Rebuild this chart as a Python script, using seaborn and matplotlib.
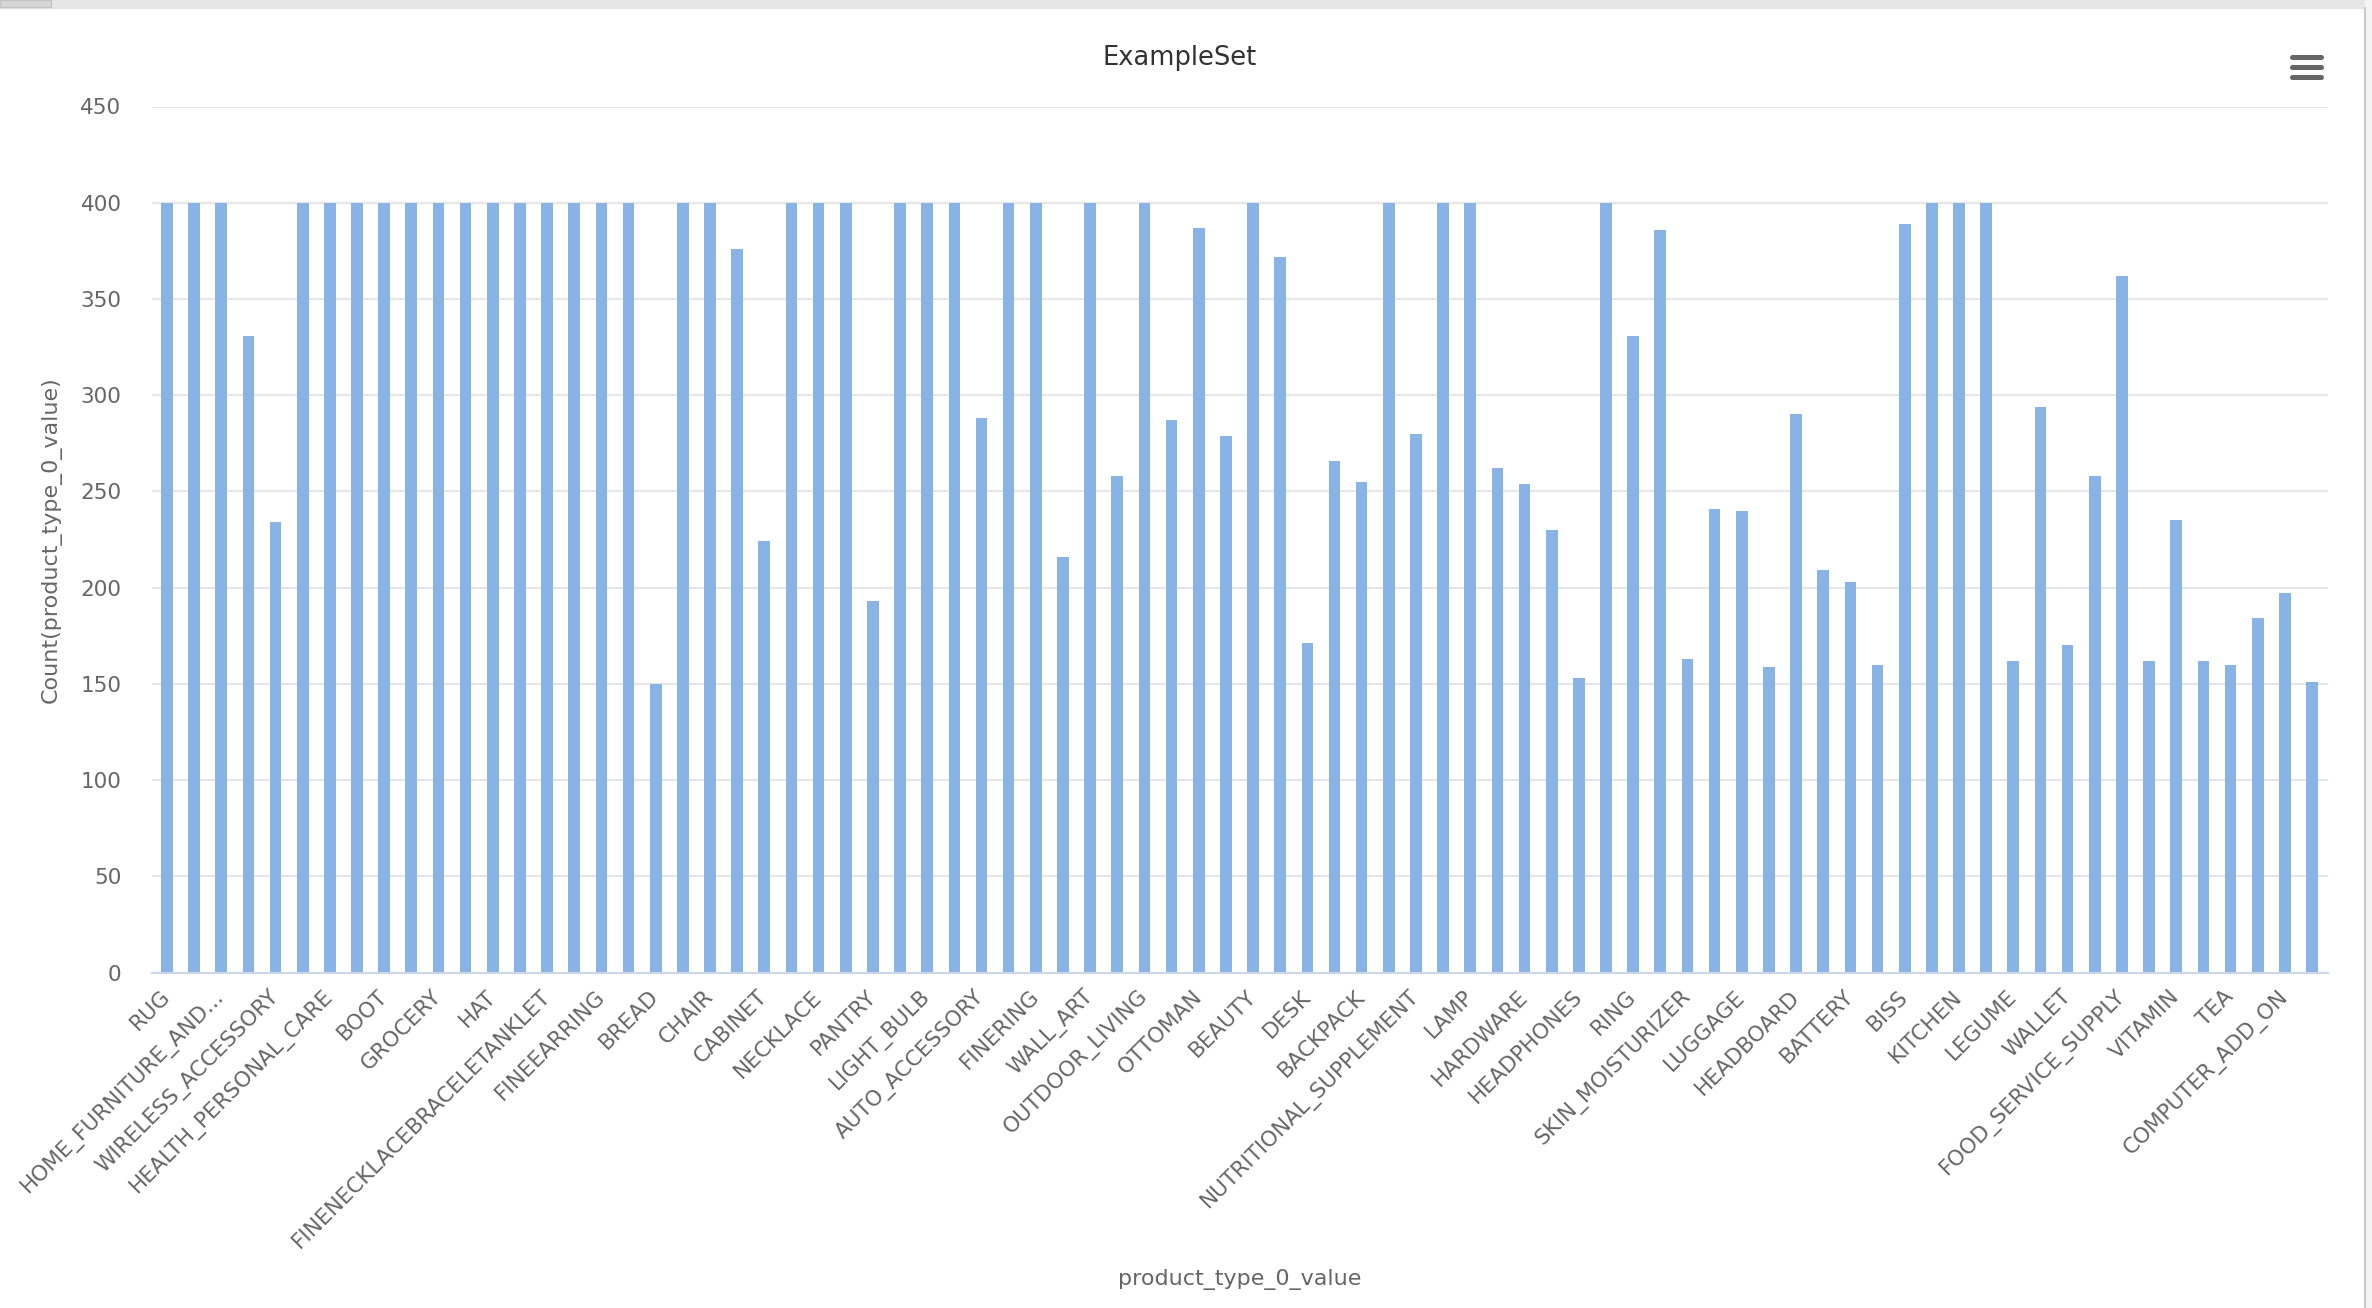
import numpy as np
import pandas as pd
import matplotlib.pyplot as plt
from matplotlib.lines import Line2D
from matplotlib.patches import Rectangle
import seaborn as sns

# === DATA ===
# 80 bars; only every second category name is printed on the axis (the rest are hidden by the chart)
shown_labels = ['RUG', 'HOME_FURNITURE_AND...', 'WIRELESS_ACCESSORY', 'HEALTH_PERSONAL_CARE', 'BOOT',
                'GROCERY', 'HAT', 'FINENECKLACEBRACELETANKLET', 'FINEEARRING', 'BREAD',
                'CHAIR', 'CABINET', 'NECKLACE', 'PANTRY', 'LIGHT_BULB',
                'AUTO_ACCESSORY', 'FINERING', 'WALL_ART', 'OUTDOOR_LIVING', 'OTTOMAN',
                'BEAUTY', 'DESK', 'BACKPACK', 'NUTRITIONAL_SUPPLEMENT', 'LAMP',
                'HARDWARE', 'HEADPHONES', 'RING', 'SKIN_MOISTURIZER', 'LUGGAGE',
                'HEADBOARD', 'BATTERY', 'BISS', 'KITCHEN', 'LEGUME',
                'WALLET', 'FOOD_SERVICE_SUPPLY', 'VITAMIN', 'TEA', 'COMPUTER_ADD_ON']
counts = [400, 400, 400, 331, 234, 400, 400, 400, 400, 400,
          400, 400, 400, 400, 400, 400, 400, 400, 150, 400,
          400, 376, 224, 400, 400, 400, 193, 400, 400, 400,
          288, 400, 400, 216, 400, 258, 400, 287, 387, 279,
          400, 372, 171, 266, 255, 400, 280, 400, 400, 262,
          254, 230, 153, 400, 331, 386, 163, 241, 240, 159,
          290, 209, 203, 160, 389, 400, 400, 400, 162, 294,
          170, 258, 362, 162, 235, 162, 160, 184, 197, 151]
y_ticks = [0, 50, 100, 150, 200, 250, 300, 350, 400, 450]

df = pd.DataFrame({'pos': np.arange(len(counts)), 'count': counts})

# === STYLE ===
sns.set_style('white')
plt.rcParams['font.family'] = ['DejaVu Sans']
BAR = '#89b3e5'
GREY_TXT = '#666666'

W, H = 2372, 1308
fig = plt.figure(figsize=(W / 100, H / 100), dpi=100)
ax = fig.add_axes([152 / W, 1 - 972.6 / H, (2328 - 152) / W, (972.6 - 106.5) / H])

sns.barplot(data=df, x='pos', y='count', color=BAR, width=0.43, saturation=1,
            linewidth=0, ax=ax)

ax.set_ylim(0, 450)
ax.set_xlim(-0.55, len(counts) - 0.41)
ax.set_yticks(y_ticks)
ax.set_yticklabels([str(v) for v in y_ticks], fontsize=15.5, color=GREY_TXT)
ax.yaxis.grid(True, color='#e6e6e6', lw=1.5)
ax.set_axisbelow(True)

ax.set_xticks(np.arange(0, len(counts), 2))
ax.set_xticklabels(shown_labels, rotation=45, ha='right', rotation_mode='anchor',
                   va='center', fontsize=15.5, color=GREY_TXT)
ax.tick_params(axis='x', length=0, pad=15)
ax.tick_params(axis='y', length=0, pad=22)

for s in ['top', 'right', 'left']:
    ax.spines[s].set_visible(False)
ax.spines['bottom'].set_color('#ccd6eb')
ax.spines['bottom'].set_linewidth(1.5)

ax.set_xlabel('product_type_0_value', fontsize=16, color=GREY_TXT)
ax.xaxis.set_label_coords(0.5, -(1280 - 972.6) / (972.6 - 106.5), transform=ax.transAxes)
ax.xaxis.label.set_va('center')
ax.set_ylabel('Count(product_type_0_value)', fontsize=16, color=GREY_TXT)
ax.yaxis.set_label_coords(-(152 - 51) / (2328 - 152), 0.5, transform=ax.transAxes)
ax.yaxis.label.set_va('center')

fig.text(1180 / W, 1 - 58 / H, 'ExampleSet', ha='center', va='center', fontsize=18.5, color='#333333')

# === FRAME DECORATION (window chrome) ===
fig.patches.append(Rectangle((0, 1 - 8 / H), 1, 8 / H, transform=fig.transFigure,
                             color='#e6e6e6', zorder=0))
fig.patches.append(Rectangle((0, 1 - 7 / H), 51 / W, 7 / H, transform=fig.transFigure,
                             facecolor='#d6d6d6', edgecolor='#c4c4c4', lw=1, zorder=1))
fig.patches.append(Rectangle((2365 / W, 0), 7 / W, 1, transform=fig.transFigure,
                             color='#f4f4f4', zorder=0))
fig.lines.append(Line2D([2364.5 / W, 2364.5 / W], [0, 1 - 8 / H], transform=fig.transFigure,
                        color='#c8c8c8', lw=1.5))
for yy in [57, 67, 77]:
    fig.lines.append(Line2D([2291.5 / W, 2320.5 / W], [1 - yy / H] * 2, transform=fig.transFigure,
                            color='#666666', lw=3.6, solid_capstyle='round'))

fig.savefig('out.png', dpi=100)
